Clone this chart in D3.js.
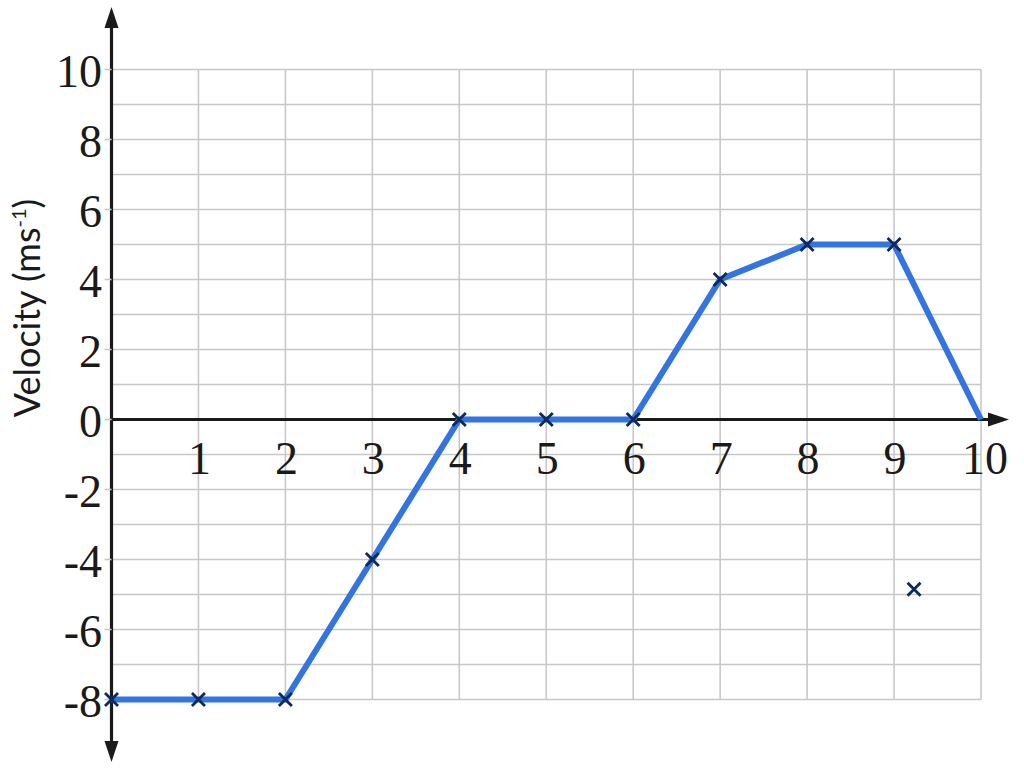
<!DOCTYPE html>
<html><head><meta charset="utf-8">
<script src="https://cdn.jsdelivr.net/npm/d3@7"></script>
<style>body{margin:0;background:#fff}svg{display:block}</style>
</head><body>
<svg id="c" width="1024" height="779"></svg>
<script>
const times = [0,1,2,3,4,5,6,7,8,9,10];
const velocity = [-8,-8,-8,-4,0,0,0,4,5,5,0];
const markerTimes = [0,1,2,3,4,5,6,7,8,9,9.23];
const markerVel = [-8,-8,-8,-4,0,0,0,4,5,5,-4.85];
const xTickLabels = [1,2,3,4,5,6,7,8,9,10];
const yTickLabels = [-8,-6,-4,-2,0,2,4,6,8,10];
const yGrid = d3.range(-8,11,1);
const xGrid = d3.range(1,11,1);

const svg = d3.select("#c");
const x = d3.scaleLinear().domain([0,10]).range([111.5,981]);
const y = d3.scaleLinear().domain([-8,10]).range([699.5,69.5]);

const grid = svg.append("g").attr("stroke","#c8c8c8").attr("stroke-width",1.6);
grid.selectAll(".h").data(yGrid).join("line")
  .attr("x1",x(0)).attr("x2",x(10)).attr("y1",d=>y(d)).attr("y2",d=>y(d));
grid.selectAll(".v").data(xGrid).join("line")
  .attr("x1",d=>x(d)).attr("x2",d=>x(d)).attr("y1",y(10)).attr("y2",y(-8));

// axes
const ax = svg.append("g").attr("stroke","#1a1a1a").attr("stroke-width",3.2);
ax.append("line").attr("x1",x(0)).attr("x2",x(0)).attr("y1",24).attr("y2",745);
ax.append("line").attr("x1",x(0)).attr("x2",992).attr("y1",y(0)).attr("y2",y(0));
svg.append("path").attr("fill","#1a1a1a")
  .attr("d",`M${x(0)},7 L${x(0)+7},28 L${x(0)-7},28 Z`);
svg.append("path").attr("fill","#1a1a1a")
  .attr("d",`M${x(0)},762 L${x(0)+7},741 L${x(0)-7},741 Z`);
svg.append("path").attr("fill","#1a1a1a")
  .attr("d",`M1009,${y(0)} L988,${y(0)-7} L988,${y(0)+7} Z`);

// y ticks
svg.append("g").attr("stroke","#c8c8c8").attr("stroke-width",1.6)
  .selectAll("line").data(yTickLabels).join("line")
  .attr("x1",x(0)-7).attr("x2",x(0)).attr("y1",d=>y(d)).attr("y2",d=>y(d));

svg.append("g").attr("font-family","'Liberation Serif','Times New Roman',serif")
  .attr("font-size",46).attr("fill","#1a1a1a").attr("text-anchor","end")
  .selectAll("text").data(yTickLabels).join("text")
  .attr("x",102).attr("y",d=>y(d)+17).text(d=>d);

svg.append("g").attr("font-family","'Liberation Serif','Times New Roman',serif")
  .attr("font-size",46).attr("fill","#1a1a1a").attr("text-anchor","middle")
  .selectAll("text").data(xTickLabels).join("text")
  .attr("x",d=>x(d)+(d===10?4:1)).attr("y",y(0)+54).text(d=>d);

// y label
const yl = svg.append("text").attr("transform","translate(40,308) rotate(-90)")
  .attr("font-family","Lato,'Open Sans',sans-serif").attr("font-size",36)
  .attr("fill","#1a1a1a").attr("text-anchor","middle");
yl.append("tspan").text("Velocity (ms");
yl.append("tspan").attr("font-size",20).attr("dy",-14).text("-1");
yl.append("tspan").attr("dy",14).text(")");

// line
const pts = times.map((t,i)=>[t,velocity[i]]);
svg.append("path").datum(pts)
  .attr("fill","none").attr("stroke","#3374e0").attr("stroke-width",6)
  .attr("stroke-linejoin","miter")
  .attr("d",d3.line().x(d=>x(d[0])).y(d=>y(d[1])));

// markers
const m = 6.5;
svg.append("g").attr("stroke","#0d2a5c").attr("stroke-width",2.8)
  .selectAll("path").data(markerTimes.map((t,i)=>[t,markerVel[i]])).join("path")
  .attr("fill","none")
  .attr("d",d=>{const cx=x(d[0]),cy=y(d[1]);return `M${cx-m},${cy-m}L${cx+m},${cy+m}M${cx-m},${cy+m}L${cx+m},${cy-m}`;});
</script>
</body></html>
